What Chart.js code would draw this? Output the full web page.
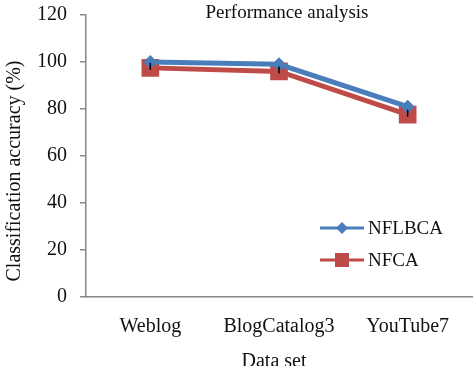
<!DOCTYPE html>
<html lang="en">
<head>
  <meta charset="UTF-8">
  <title>Performance analysis</title>
  <script src="https://cdn.jsdelivr.net/npm/chart.js"></script>
  <style>
    html, body { margin: 0; padding: 0; background: #fff; overflow: hidden; }
    canvas { display: block; }
  </style>
</head>
<body>
  <canvas id="graph" width="474" height="366"></canvas>
  <script>
    // data
    const categories = ['Weblog', 'BlogCatalog3', 'YouTube7'];
    const nflbca = [100, 99, 81];
    const nfca = [97.5, 96, 77.6];
    const yTicks = [0, 20, 40, 60, 80, 100, 120];

    const serif = '"Liberation Serif", "Times New Roman", serif';
    const blue = '#4a7ebb';
    const red = '#be4b48';
    const ink = '#111';

    // title, axis titles and legend drawn by hand, placed like the original
    const overlay = {
      id: 'overlay',
      afterDraw(chart) {
        const c = chart.ctx;
        c.save();
        c.fillStyle = ink;
        c.font = '19px ' + serif;
        c.textAlign = 'center';
        c.textBaseline = 'middle';
        c.fillText('Performance analysis', 287, 13);

        c.font = '20px ' + serif;
        c.textBaseline = 'alphabetic';
        c.fillText('Data set', 274, 367);

        c.save();
        c.translate(15, 171);
        c.rotate(-Math.PI / 2);
        c.textBaseline = 'middle';
        c.fillText('Classification accuracy (%)', 0, 0);
        c.restore();

        // small black marks inside NFCA squares
        const meta = chart.getDatasetMeta(1);
        c.strokeStyle = '#000';
        c.lineWidth = 1.5;
        meta.data.forEach(p => {
          c.beginPath();
          c.moveTo(p.x, p.y - 5);
          c.lineTo(p.x, p.y + 2);
          c.stroke();
        });

        // legend
        const rows = [228, 260];
        c.textBaseline = 'middle';
        chart.data.datasets.forEach((ds, i) => {
          const y = rows[i];
          c.strokeStyle = ds.borderColor;
          c.lineWidth = 3;
          c.beginPath();
          c.moveTo(320, y);
          c.lineTo(364, y);
          c.stroke();
          c.fillStyle = ds.backgroundColor;
          if (ds.pointStyle === 'rectRot') {
            c.beginPath();
            c.moveTo(342, y - 6);
            c.lineTo(348, y);
            c.lineTo(342, y + 6);
            c.lineTo(336, y);
            c.closePath();
            c.fill();
          } else {
            c.fillRect(335, y - 7, 14, 14);
          }
          c.fillStyle = ink;
          c.textAlign = 'left';
          c.font = '19px ' + serif;
          c.fillText(ds.label, 368, y + 1);
        });
        c.restore();
      }
    };

    const ctx = document.getElementById('graph').getContext('2d');
    new Chart(ctx, {
      type: 'line',
      data: {
        labels: categories,
        datasets: [{
          label: 'NFLBCA',
          data: nflbca,
          borderColor: blue,
          backgroundColor: blue,
          borderWidth: 5,
          pointStyle: 'rectRot',
          pointRadius: 7,
          pointBorderWidth: 0
        }, {
          label: 'NFCA',
          data: nfca,
          borderColor: red,
          backgroundColor: red,
          borderWidth: 5,
          pointStyle: 'rect',
          pointRadius: 12.5,
          pointBorderWidth: 0
        }]
      },
      options: {
        responsive: false,
        animation: false,
        layout: { autoPadding: false, padding: { top: 15, right: 2, left: 0, bottom: 0 } },
        plugins: {
          legend: { display: false },
          title: { display: false },
          tooltip: { enabled: false }
        },
        scales: {
          x: {
            offset: true,
            grid: { display: false },
            border: { display: true, color: '#888', width: 1.5 },
            ticks: { color: ink, font: { family: serif, size: 20 }, padding: 10 },
            afterFit(scale) { scale.height = 69; scale.paddingLeft = 0; scale.paddingRight = 0; }
          },
          y: {
            min: 0,
            max: 120,
            afterBuildTicks(scale) { scale.ticks = yTicks.map(v => ({ value: v })); },
            grid: { drawOnChartArea: false, drawTicks: true, tickLength: 6, color: '#888', lineWidth: 1.5 },
            border: { display: true, color: '#888', width: 1.5 },
            ticks: { color: ink, font: { family: serif, size: 20 }, padding: 13 },
            afterFit(scale) { scale.width = 86; scale.paddingTop = 0; scale.paddingBottom = 0; }
          }
        }
      },
      plugins: [overlay]
    });
  </script>
</body>
</html>
